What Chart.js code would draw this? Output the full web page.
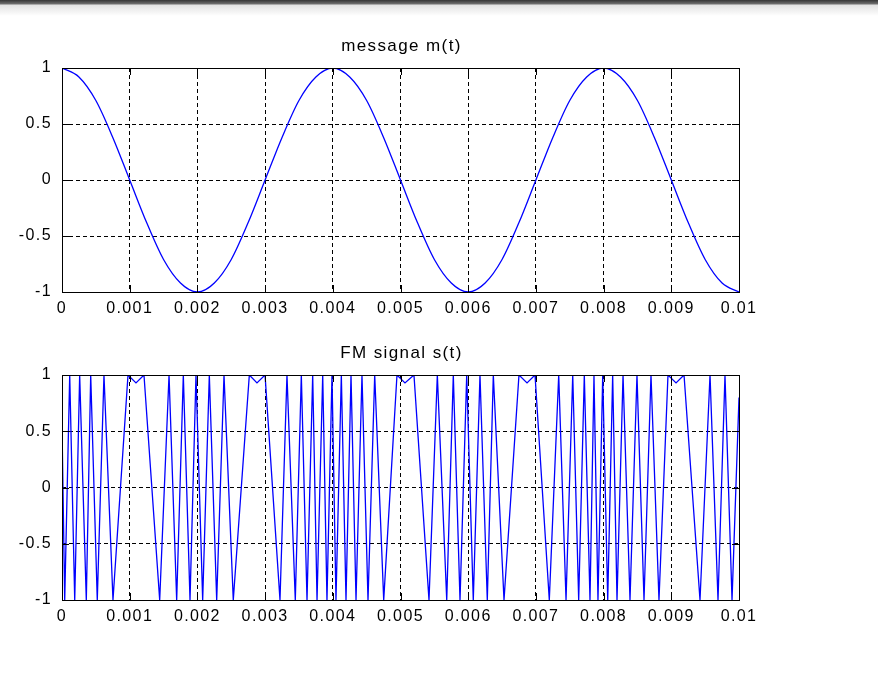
<!DOCTYPE html>
<html>
<head>
<meta charset="utf-8">
<title>message m(t) / FM signal s(t)</title>
<script src="https://cdn.jsdelivr.net/npm/chart.js@4.4.1/dist/chart.umd.min.js"></script>
<style>
  html, body { margin: 0; padding: 0; background: #fff; }
  body { width: 878px; height: 680px; position: relative; overflow: hidden; }
  .topbar {
    position: absolute; left: 0; top: 0; width: 878px; height: 16px;
    background: linear-gradient(#353535 0, #707070 4px, #e2e2e2 5px, #fff 16px);
  }
  .panel { position: absolute; left: 0; width: 878px; height: 340px; }
</style>
</head>
<body>
<div class="topbar"></div>
<div class="panel" style="top:0"><canvas id="msgChart"></canvas></div>
<div class="panel" style="top:340px"><canvas id="fmChart"></canvas></div>

<script>
// time axis ticks (seconds)
const xTicks = [0, 0.001, 0.002, 0.003, 0.004, 0.005, 0.006, 0.007, 0.008, 0.009, 0.01];
const yTicks = [-1, -0.5, 0, 0.5, 1];

// message m(t), every 0.25 ms
const msgTime = [
  0, 0.00025, 0.0005, 0.00075, 0.001, 0.00125, 0.0015, 0.00175, 0.002, 0.00225,
  0.0025, 0.00275, 0.003, 0.00325, 0.0035, 0.00375, 0.004, 0.00425, 0.0045, 0.00475,
  0.005, 0.00525, 0.0055, 0.00575, 0.006, 0.00625, 0.0065, 0.00675, 0.007, 0.00725,
  0.0075, 0.00775, 0.008, 0.00825, 0.0085, 0.00875, 0.009, 0.00925, 0.0095, 0.00975,
  0.01
];
const msgValue = [
  1, 0.92, 0.71, 0.38, 0, -0.38, -0.71, -0.92, -1, -0.92,
  -0.71, -0.38, 0, 0.38, 0.71, 0.92, 1, 0.92, 0.71, 0.38,
  0, -0.38, -0.71, -0.92, -1, -0.92, -0.71, -0.38, 0, 0.38,
  0.71, 0.92, 1, 0.92, 0.71, 0.38, 0, -0.38, -0.71, -0.92,
  -1
];

// FM signal s(t): turning points
const fmTime = [
  0, 0.000040, 0.000114, 0.000188, 0.000261, 0.000359, 0.000424, 0.000521, 0.000620, 0.000753,
  0.000975, 0.001093, 0.001211, 0.001443, 0.001581, 0.001694, 0.001792, 0.001891, 0.001979, 0.002078,
  0.002176, 0.002285, 0.002393, 0.002530, 0.002767, 0.002880, 0.002999, 0.003220, 0.003323, 0.003446,
  0.003535, 0.003619, 0.003703, 0.003767, 0.003851, 0.003914, 0.003988, 0.004047, 0.004126, 0.004195,
  0.004269, 0.004343, 0.004431, 0.004520, 0.004619, 0.004752, 0.004948, 0.005066, 0.005199, 0.005421,
  0.005544, 0.005683, 0.005780, 0.005879, 0.005978, 0.006075, 0.006174, 0.006282, 0.006371, 0.006529,
  0.006750, 0.006869, 0.006987, 0.007198, 0.007337, 0.007445, 0.007544, 0.007632, 0.007715, 0.007799,
  0.007858, 0.007917, 0.007987, 0.008061, 0.008134, 0.008198, 0.008287, 0.008390, 0.008493, 0.008597,
  0.008700, 0.008818, 0.008951, 0.009070, 0.009188, 0.009424, 0.009572, 0.009690, 0.009793, 0.009897,
  0.010000
];
const fmValue = [
  0.55, -1, 1, -1, 1, -1, 1, -1, 1, -1,
  1, 0.93, 1, -1, 1, -1, 1, -1, 1, -1,
  1, -1, 1, -1, 1, 0.93, 1, -1, 1, -1,
  1, -1, 1, -1, 1, -1, 1, -1, 1, -1,
  1, -1, 1, -1, 1, -1, 1, 0.93, 1, -1,
  1, -1, 1, -1, 1, -1, 1, -1, 1, -1,
  1, 0.93, 1, -1, 1, -1, 1, -1, 1, -1,
  1, -1, 1, -1, 1, -1, 1, -1, 1, -1,
  1, -1, 1, 0.93, 1, -1, 1, -1, 1, -1,
  0.8
];

const FAMILY = "'Liberation Sans', Arial, sans-serif";
const FONT = { family: FAMILY, size: 16 };
const BLUE = '#0000ff';

// MATLAB-ish look: letter spacing, title over the axes, closed box, inward tick marks
const matlabAxes = {
  id: 'matlabAxes',
  beforeDraw(chart) {
    chart.ctx.letterSpacing = '1.4px';
  },
  afterDatasetsDraw(chart, args, opts) {
    const { ctx, chartArea: a, scales } = chart;
    const tl = 7;
    ctx.save();
    ctx.strokeStyle = '#000';
    ctx.lineWidth = 1;
    ctx.setLineDash([]);
    ctx.beginPath();
    xTicks.forEach(v => {
      const px = Math.round(scales.x.getPixelForValue(v)) + 0.5;
      ctx.moveTo(px, a.bottom); ctx.lineTo(px, a.bottom - tl);
      ctx.moveTo(px, a.top); ctx.lineTo(px, a.top + tl);
    });
    yTicks.forEach(v => {
      const py = Math.round(scales.y.getPixelForValue(v)) + 0.5;
      ctx.moveTo(a.left, py); ctx.lineTo(a.left + tl, py);
      ctx.moveTo(a.right, py); ctx.lineTo(a.right - tl, py);
    });
    ctx.stroke();
    ctx.strokeRect(Math.round(a.left) + 0.5, Math.round(a.top) + 0.5,
      Math.round(a.right - a.left), Math.round(a.bottom - a.top));

    ctx.fillStyle = '#000';
    ctx.font = '17px ' + FAMILY;
    ctx.letterSpacing = '1.4px';
    ctx.textAlign = 'center';
    ctx.textBaseline = 'middle';
    ctx.fillText(opts.title, (a.left + a.right) / 2 + 1, a.top - opts.titleGap);
    ctx.restore();
  }
};

function makePanel(canvasId, title, times, values, plotTop, xAxisHeight, smooth) {
  const points = times.map((t, i) => ({ x: t, y: values[i] }));
  return new Chart(document.getElementById(canvasId), {
    type: 'line',
    data: {
      datasets: [{
        data: points,
        borderColor: BLUE,
        borderWidth: 1.3,
        pointRadius: 0,
        cubicInterpolationMode: smooth ? 'monotone' : 'default',
        tension: 0,
        fill: false
      }]
    },
    options: {
      responsive: true,
      maintainAspectRatio: false,
      animation: false,
      parsing: false,
      layout: { padding: { left: 0, right: 139, top: plotTop, bottom: 0 } },
      plugins: {
        legend: { display: false },
        tooltip: { enabled: false },
        title: { display: false },
        matlabAxes: { title: title, titleGap: 22 }
      },
      scales: {
        x: {
          type: 'linear',
          min: 0,
          max: 0.01,
          afterBuildTicks: s => { s.ticks = xTicks.map(v => ({ value: v })); },
          afterFit: s => { s.height = xAxisHeight; },
          ticks: {
            color: '#000',
            font: FONT,
            padding: 7,
            maxRotation: 0,
            autoSkip: false,
            callback: v => String(Number(v.toFixed(3)))
          },
          grid: { color: '#000', lineWidth: 1, drawTicks: false },
          border: { display: false, dash: [4, 3] }
        },
        y: {
          type: 'linear',
          min: -1,
          max: 1,
          afterBuildTicks: s => { s.ticks = yTicks.map(v => ({ value: v })); },
          afterFit: s => { s.width = 62; },
          ticks: {
            color: '#000',
            font: FONT,
            padding: 10,
            callback: v => String(v)
          },
          grid: { color: '#000', lineWidth: 1, drawTicks: false },
          border: { display: false, dash: [4, 3] }
        }
      }
    },
    plugins: [matlabAxes]
  });
}

makePanel('msgChart', 'message m(t)', msgTime, msgValue, 68, 48, true);
makePanel('fmChart', 'FM signal s(t)', fmTime, fmValue, 35, 80, false);
</script>
</body>
</html>
